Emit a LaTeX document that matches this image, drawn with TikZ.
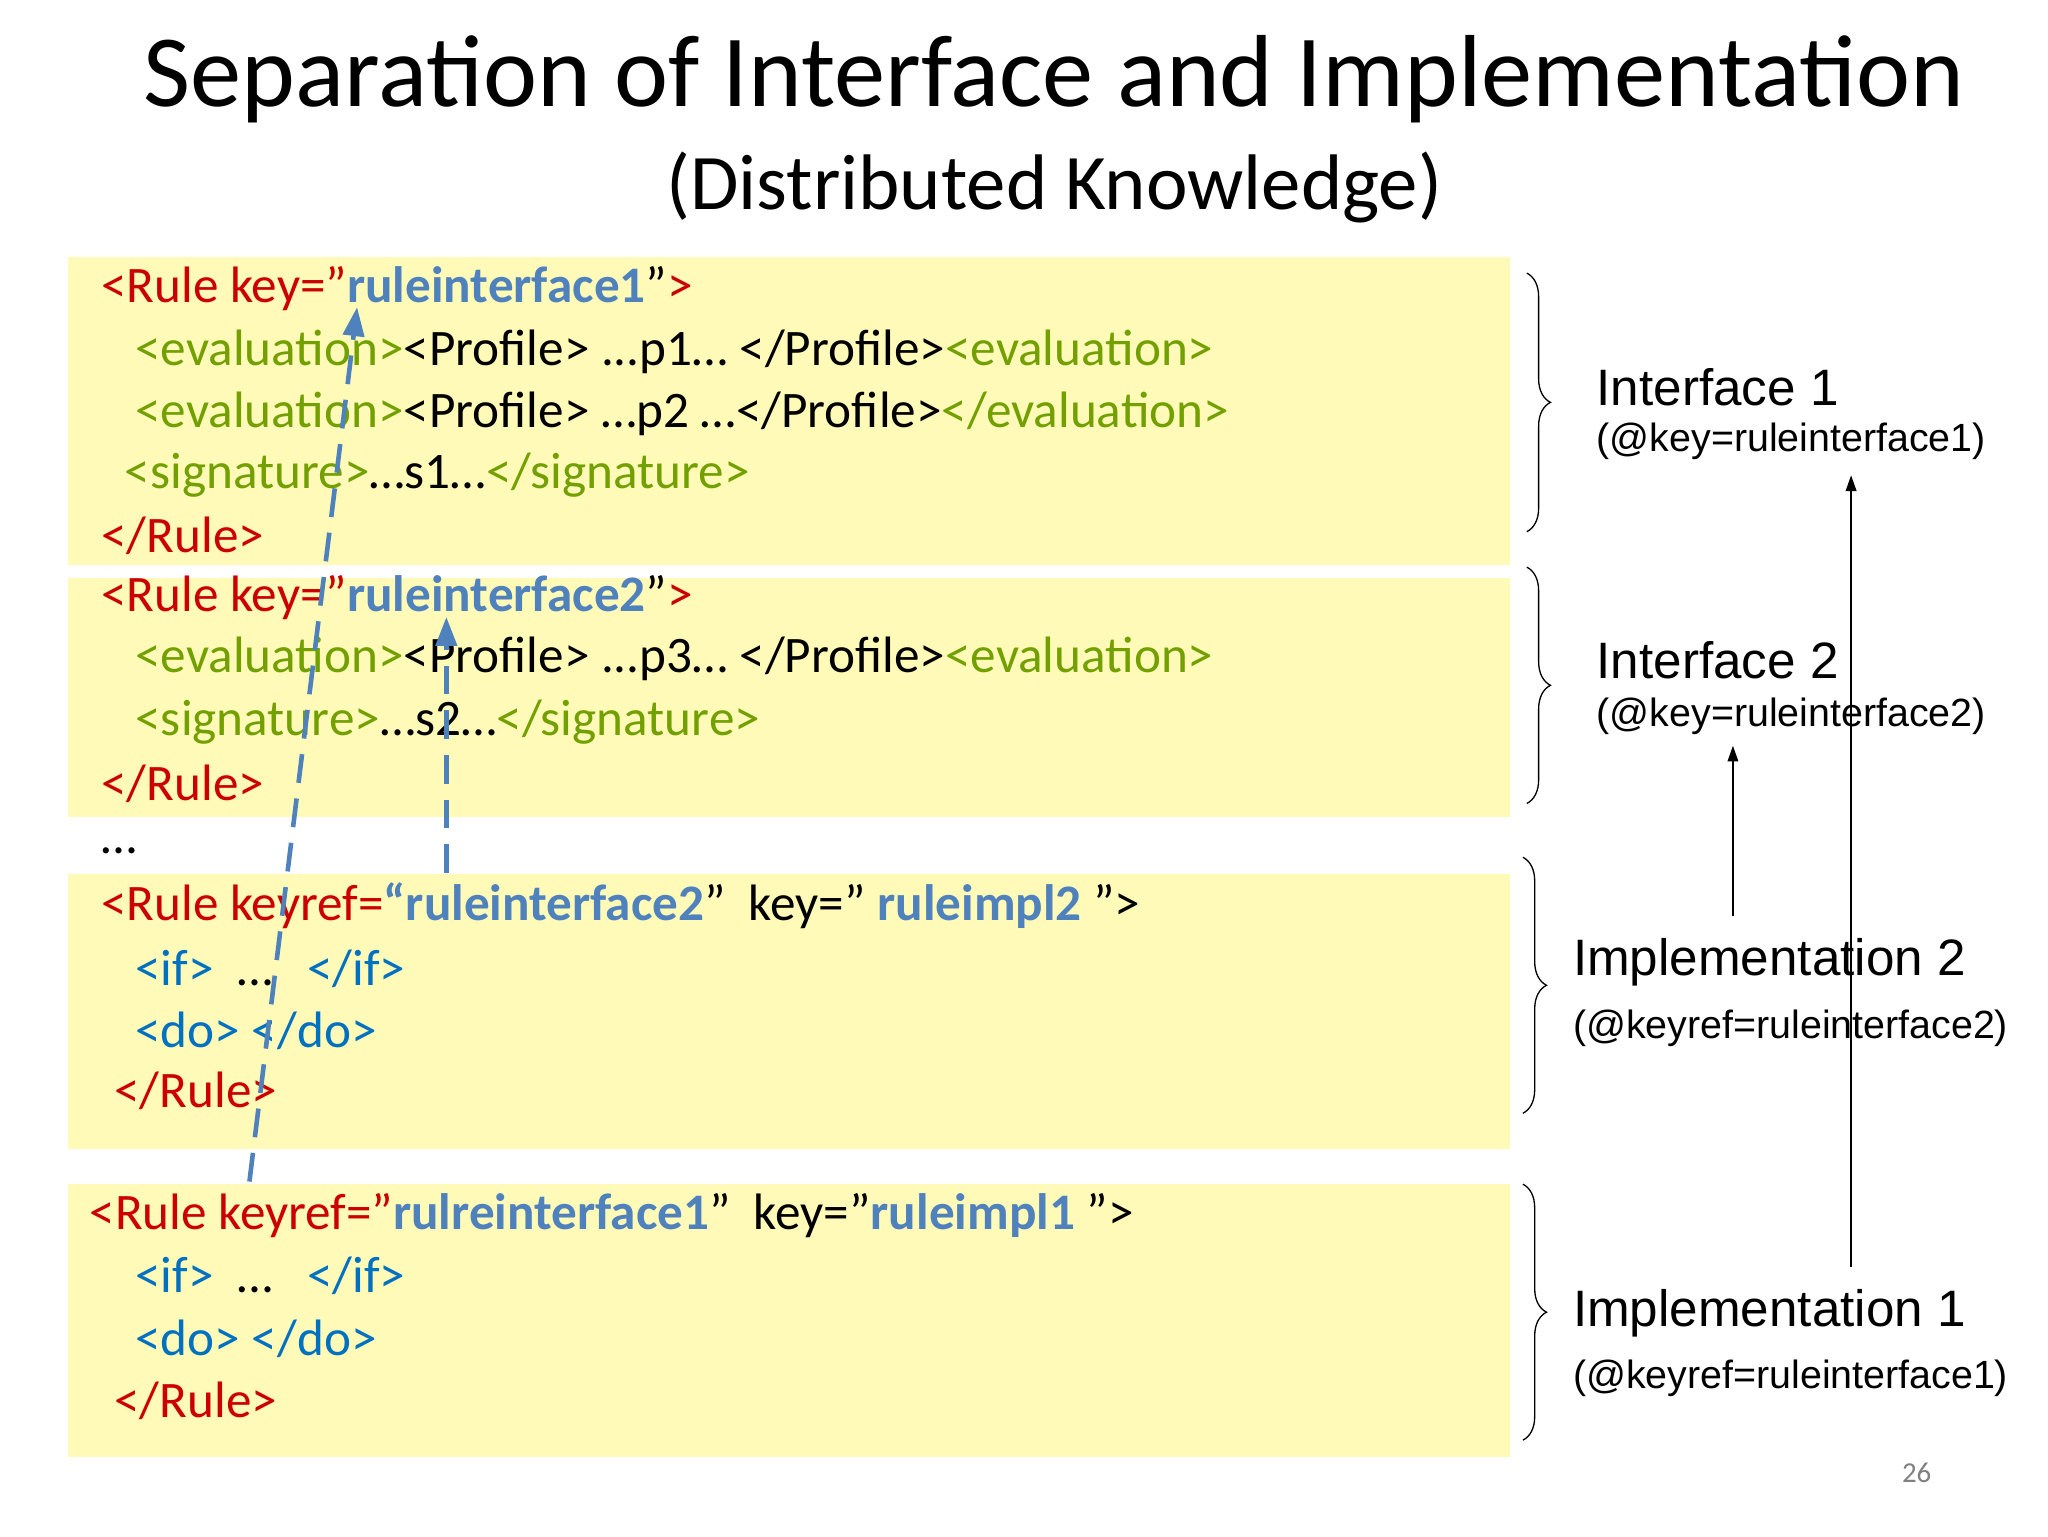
\documentclass[tikz,border=0pt]{standalone}
\usepackage{fontspec}
\setmainfont{Carlito}
\newfontfamily\arial{Liberation Sans}
\usetikzlibrary{decorations.pathreplacing,arrows.meta}
\definecolor{boxy}{HTML}{FFFAB8}
\definecolor{cred}{HTML}{CC0000}
\definecolor{cval}{HTML}{4F81BD}
\definecolor{cgrn}{HTML}{72A000}
\definecolor{cif}{HTML}{0070C0}
\newcommand\cRed[1]{\textcolor{cred}{#1}}
\newcommand\cVal[1]{\textcolor{cval}{\bfseries #1}}
\newcommand\cGrn[1]{\textcolor{cgrn}{#1}}
\newcommand\cIf[1]{\textcolor{cif}{#1}}
\newcommand\q{\symbol{34}}
\begin{document}
\begin{tikzpicture}[x=1pt,y=-1pt,
  code/.style={anchor=west,inner sep=0pt,font=\fontsize{39}{44}\selectfont},
  lab/.style={anchor=west,inner sep=0pt,font=\arial\fontsize{39}{44}\selectfont},
  sub/.style={anchor=west,inner sep=0pt,font=\arial\fontsize{30}{34}\selectfont},
  brc/.style={decorate,decoration={brace,amplitude=18pt},line width=1pt},
  bluedash/.style={draw=cval,line width=3.5pt,dash pattern=on 22pt off 12pt,-{Triangle[length=22pt,width=16pt]}},
  varr/.style={line width=1.5pt,-{Triangle[length=12pt,width=8pt]}}]
\useasboundingbox (0,0) rectangle (1560,1170);
\node[font=\fontsize{78}{88}\selectfont,inner sep=0pt] (title) at (803,60) {Separation of Interface and Implementation};
\node[font=\fontsize{60}{68}\selectfont,inner sep=0pt] (subt) at (803,143) {(Distributed Knowledge)};
\fill[boxy] (52,196) rectangle (1150,430);
\fill[boxy] (52,440) rectangle (1150,622);
\fill[boxy] (52,666) rectangle (1150,875);
\fill[boxy] (52,902) rectangle (1150,1110);
% box 1
\node[code] (a1) at (77,220) {\cRed{<Rule key=\q}\cVal{ruleinterface1}\q\cRed{>}};
\node[code] (a2) at (103,268) {\cGrn{<evaluation>}<Profile> ...p1… </Profile>\cGrn{<evaluation>}};
\node[code] (a3) at (103,315) {\cGrn{<evaluation>}<Profile> …p2 …</Profile>\cGrn{</evaluation>}};
\node[code] (a4) at (95,362) {\cGrn{<signature>}…s1…\cGrn{</signature>}};
\node[code] (a5) at (77,408) {\cRed{</Rule>}};
% box 2
\node[code] (b1) at (77,455) {\cRed{<Rule key=\q}\cVal{ruleinterface2}\q\cRed{>}};
\node[code] (b2) at (103,502) {\cGrn{<evaluation>}<Profile> ...p3… </Profile>\cGrn{<evaluation>}};
\node[code] (b3) at (103,550) {\cGrn{<signature>}…s2…\cGrn{</signature>}};
\node[code] (b4) at (77,597) {\cRed{</Rule>}};
\node[code] (dots) at (77,648) {…};
% box 3
\node[code] (c1) at (77,690) {\cRed{<Rule keyref=}\cVal{“ruleinterface2}\q\ \ key=\q\ \cVal{ruleimpl2} \q>};
\node[code] (c2) at (103,738) {\cIf{<if>}\ \ …\ \ \ \cIf{</if>}};
\node[code] (c3) at (103,785) {\cIf{<do> </do>}};
\node[code] (c4) at (87,831) {\cRed{</Rule>}};
% box 4
\node[code] (d1) at (68,926) {\cRed{<Rule keyref=\q}\cVal{rulreinterface1}\q\ \ key=\q\cVal{ruleimpl1} \q>};
\node[code] (d2) at (103,972) {\cIf{<if>}\ \ …\ \ \ \cIf{</if>}};
\node[code] (d3) at (103,1020) {\cIf{<do> </do>}};
\node[code] (d4) at (87,1067) {\cRed{</Rule>}};
% braces
\draw[brc] (1163,208) -- (1163,405);
\draw[brc] (1163,432) -- (1163,612);
\draw[brc] (1160,653) -- (1160,848);
\draw[brc] (1160,902) -- (1160,1097);
% labels
\node[lab] (i1) at (1216,295) {Interface 1};
\node[sub] (i1s) at (1216,336) {(@key=ruleinterface1)};
\node[lab] (i2) at (1216,503) {Interface 2};
\node[sub] (i2s) at (1216,546) {(@key=ruleinterface2)};
\node[lab] (m2) at (1198,733) {Implementation 2};
\node[sub] (m2s) at (1198,783) {(@keyref=ruleinterface2)};
\node[lab] (m1) at (1198,1000) {Implementation 1};
\node[sub] (m1s) at (1198,1050) {(@keyref=ruleinterface1)};
\node[text=gray,font=\fontsize{22}{26}\selectfont,inner sep=0pt] (pg) at (1460,1122) {26};
% arrows
\coordinate (p1) at (1410,965); \coordinate (q1) at (1410,362);
\coordinate (p2) at (1320,698); \coordinate (q2) at (1320,568);
\draw[varr] (p1) -- (q1);
\draw[varr] (p2) -- (q2);
\coordinate (s1) at (190,900); \coordinate (t1) at (272,234);
\coordinate (s2) at (340,665); \coordinate (t2) at (340,470);
\draw[bluedash] (s1) -- (t1);
\draw[bluedash] (s2) -- (t2);
\end{tikzpicture}
\end{document}
